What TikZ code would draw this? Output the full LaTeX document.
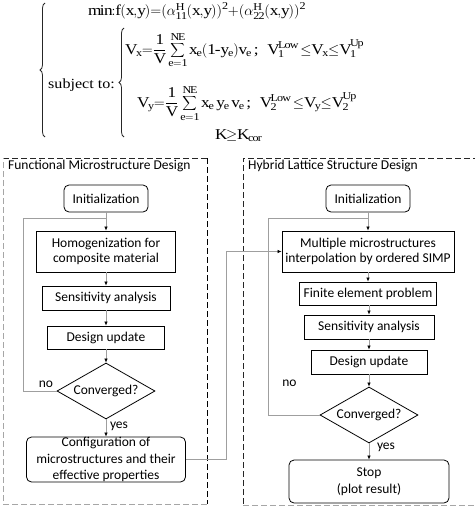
\documentclass[tikz,border=0pt]{standalone}
\usepackage{fontspec}
\setmainfont{Liberation Serif}[FakeStretch=1.15]
\newfontfamily\lab{Carlito}
\usetikzlibrary{shapes.geometric,arrows.meta,decorations.pathreplacing}
\newcommand\mr[1]{\mathrm{#1}}
\begin{document}
\begin{tikzpicture}[x=1pt,y=-1pt,
  box/.style={draw=black, line width=0.8pt, align=center, inner sep=0pt,
    font=\lab\fontsize{13.5}{15.5}\selectfont},
  rbox/.style={box, rounded corners=5pt},
  dia/.style={box, diamond, aspect=1.75, minimum width=98pt, minimum height=56pt},
  conn/.style={draw=gray!75, line width=0.7pt},
  arr/.style={conn, -{Latex[length=4pt,width=3.5pt,black]}},
  lbl/.style={inner sep=0pt, font=\lab\fontsize{13.5}{15}\selectfont},
  eq/.style={inner sep=0pt, anchor=base west, font=\fontsize{15}{17}\selectfont},
  brc/.style={draw=black!85, line width=0.8pt, decorate},
  dsh/.style={line width=1pt, dash pattern=on 6pt off 3pt},
]
\useasboundingbox (0,0) rectangle (474,506);

% ---------- formula ----------
\draw[brc, decoration={brace, amplitude=5pt}] (45,137) -- (45,3);
\draw[brc, decoration={brace, amplitude=5pt}] (124,137) -- (124,28);
\node[eq] (f1) at (88,16) {$\mr{min{:}f(x{,}y){=}(}\alpha^{\mr{H}}_{\mr{11}}\mr{(x{,}y))}^{\mr{2}}\mr{{+}(}\alpha^{\mr{H}}_{\mr{22}}\mr{(x{,}y))}^{\mr{2}}$};
\node[eq] (f2) at (125,54) {$\mr{V_x}{=}\displaystyle\frac{\mr{1}}{\mr{V}}\displaystyle\sum_{\mr{e{=}1}}^{\mr{NE}}\mr{x_e(1\mbox{-}y_e)v_e}$\,;\ \ $\mr{V_1^{Low}}\,{\le}\mr{V_x}{\le}\mr{V_1^{Up}}$};
\node[eq, font=\fontsize{14}{16}\selectfont] (f3) at (48,88) {subject to:};
\node[eq] (f4) at (137,107) {$\mr{V_y}{=}\displaystyle\frac{\mr{1}}{\mr{V}}\displaystyle\sum_{\mr{e{=}1}}^{\mr{NE}}\mr{x_e\,y_e\,v_e}$\,;\ \ $\mr{V_2^{Low}}\,{\le}\mr{V_y}{\le}\mr{V_2^{Up}}$};
\node[eq] (f5) at (215,139) {$\mr{K{\ge}K_{cor}}$};

% ---------- dashed frames ----------
\draw[dsh, black!85] (3,158) -- (207,158);
\draw[dsh, black] (207,158) -- (207,504);
\draw[dsh, gray!70] (207,504) -- (3,504) -- (3,158);
\draw[dsh, black!85] (243,504) -- (243,158) -- (476,158);
\draw[dsh, gray!70] (243,505) -- (476,505);

\node[lbl, anchor=west] (t1) at (8,166) {Functional Microstructure Design};
\node[lbl, anchor=west] (t2) at (248,166) {Hybrid Lattice Structure Design};

% ---------- left column ----------
\node[rbox, minimum width=84pt, minimum height=27pt] (li) at (106,198.5) {Initialization};
\node[box, minimum width=139pt, minimum height=41pt] (lh) at (106,251.5) {Homogenization for\\composite material};
\node[box, minimum width=128pt, minimum height=24pt] (ls) at (106,298) {Sensitivity analysis};
\node[box, minimum width=117pt, minimum height=23pt] (ld) at (106,337.5) {Design update};
\node[dia] (lc) at (106,391) {Converged?};
\node[rbox, minimum width=159pt, minimum height=45pt, font=\lab\fontsize{13.5}{16.5}\selectfont] (lf) at (106,459.5) {Configuration of\\microstructures and their\\effective properties};

% ---------- right column ----------
\node[rbox, minimum width=84pt, minimum height=27pt] (ri) at (368,198.5) {Initialization};
\node[box, minimum width=172pt, minimum height=41pt] (rm) at (368,251.5) {Multiple microstructures\\interpolation by ordered SIMP};
\node[box, minimum width=137pt, minimum height=23pt] (rf) at (368,293.5) {Finite element problem};
\node[box, minimum width=130pt, minimum height=24pt] (rs) at (369,327) {Sensitivity analysis};
\node[box, minimum width=116pt, minimum height=24pt] (rd) at (369,362) {Design update};
\node[dia] (rc) at (369,415) {Converged?};
\node[rbox, minimum width=160pt, minimum height=43pt, font=\lab\fontsize{13.5}{17}\selectfont] (rst) at (369,481.5) {Stop\\(plot result)};

% ---------- connectors left ----------
\coordinate (lj) at (106,218);
\coordinate (lk) at (23,218);
\draw[arr] (li) -- (lh);
\draw[arr] (lh) -- (ls);
\draw[arr] (ls) -- (ld);
\draw[arr] (ld) -- (lc);
\draw[arr] (lc) -- (lf);
\draw[conn] (lc.west) -| (lk) -- (lj);
\node[lbl] (lno) at (46,384) {no};
\node[lbl] (lyes) at (119,426) {yes};

% ---------- link ----------
\coordinate (mk) at (226,251.5);
\draw[arr] (lf.east) -| (mk) -- (rm.west);

% ---------- connectors right ----------
\coordinate (rj) at (368,218);
\coordinate (rk) at (268,218);
\draw[arr] (ri) -- (rm);
\draw[arr] (rm) -- (rf);
\draw[arr] (rf.south -| rs.north) -- (rs);
\draw[arr] (rs) -- (rd);
\draw[arr] (rd) -- (rc);
\draw[arr] (rc) -- (rst);
\draw[conn] (rc.west) -| (rk) -- (rj);
\node[lbl] (rno) at (289.5,383) {no};
\node[lbl] (ryes) at (386,447) {yes};
\end{tikzpicture}
\end{document}
